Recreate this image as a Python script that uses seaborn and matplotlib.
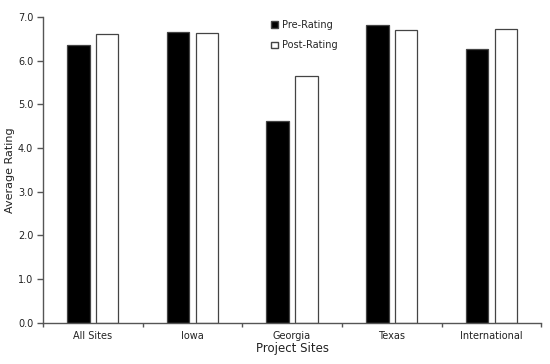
import matplotlib
matplotlib.use("Agg")
import matplotlib.pyplot as plt
import seaborn as sns
import pandas as pd
from matplotlib.patches import Patch
from matplotlib.ticker import FixedLocator, FormatStrFormatter

sites = ["All Sites", "Iowa", "Georgia", "Texas", "International"]
pre_rating = [6.35, 6.66, 4.63, 6.83, 6.26]
post_rating = [6.61, 6.63, 5.66, 6.70, 6.72]
series = ["Pre-Rating", "Post-Rating"]

df = pd.DataFrame({
    "Site": sites * 2,
    "Rating": pre_rating + post_rating,
    "Series": [series[0]] * len(sites) + [series[1]] * len(sites),
})

sns.set_style("white")
plt.rcParams["font.family"] = ["DejaVu Sans"]

fig = plt.figure(figsize=(5.5, 3.64), dpi=100)
ax = fig.add_axes([0.078, 0.1135, 0.906, 0.8395])

sns.barplot(data=df, x="Site", y="Rating", hue="Series", order=sites,
            hue_order=series, palette={"Pre-Rating": "black", "Post-Rating": "white"},
            width=0.58, gap=0.22, edgecolor="#444444", linewidth=0.9,
            legend=False, ax=ax)

ax.set_xlim(-0.5, len(sites) - 0.5)
ax.set_ylim(0, 7)
ax.set_yticks([0, 1, 2, 3, 4, 5, 6, 7])
ax.yaxis.set_major_formatter(FormatStrFormatter("%.1f"))

for s in ["top", "right"]:
    ax.spines[s].set_visible(False)
for s in ["left", "bottom"]:
    ax.spines[s].set_color("#555555")
    ax.spines[s].set_linewidth(1.0)

ax.tick_params(axis="y", which="major", direction="out", length=4, width=1,
               color="#555555", labelsize=7, labelcolor="#222222", left=True, pad=3)
ax.tick_params(axis="x", which="major", length=0, labelsize=7, labelcolor="#222222", pad=6)
ax.xaxis.set_minor_locator(FixedLocator([i - 0.5 for i in range(len(sites) + 1)]))
ax.tick_params(axis="x", which="minor", direction="out", length=3, width=1,
               color="#555555", bottom=True)

ax.set_xlabel("Project Sites", fontsize=8.5, color="#222222", labelpad=1)
ax.set_ylabel("Average Rating", fontsize=8, color="#222222", labelpad=2)

handles = [Patch(facecolor="black", edgecolor="#444444", label=series[0]),
           Patch(facecolor="white", edgecolor="#444444", label=series[1])]
ax.legend(handles=handles, loc="upper left", bbox_to_anchor=(0.44, 1.02),
          frameon=False, fontsize=7, handlelength=0.7, handleheight=0.7,
          handletextpad=0.4, labelspacing=1.1)

fig.savefig("out.png", dpi=100, facecolor="white")
